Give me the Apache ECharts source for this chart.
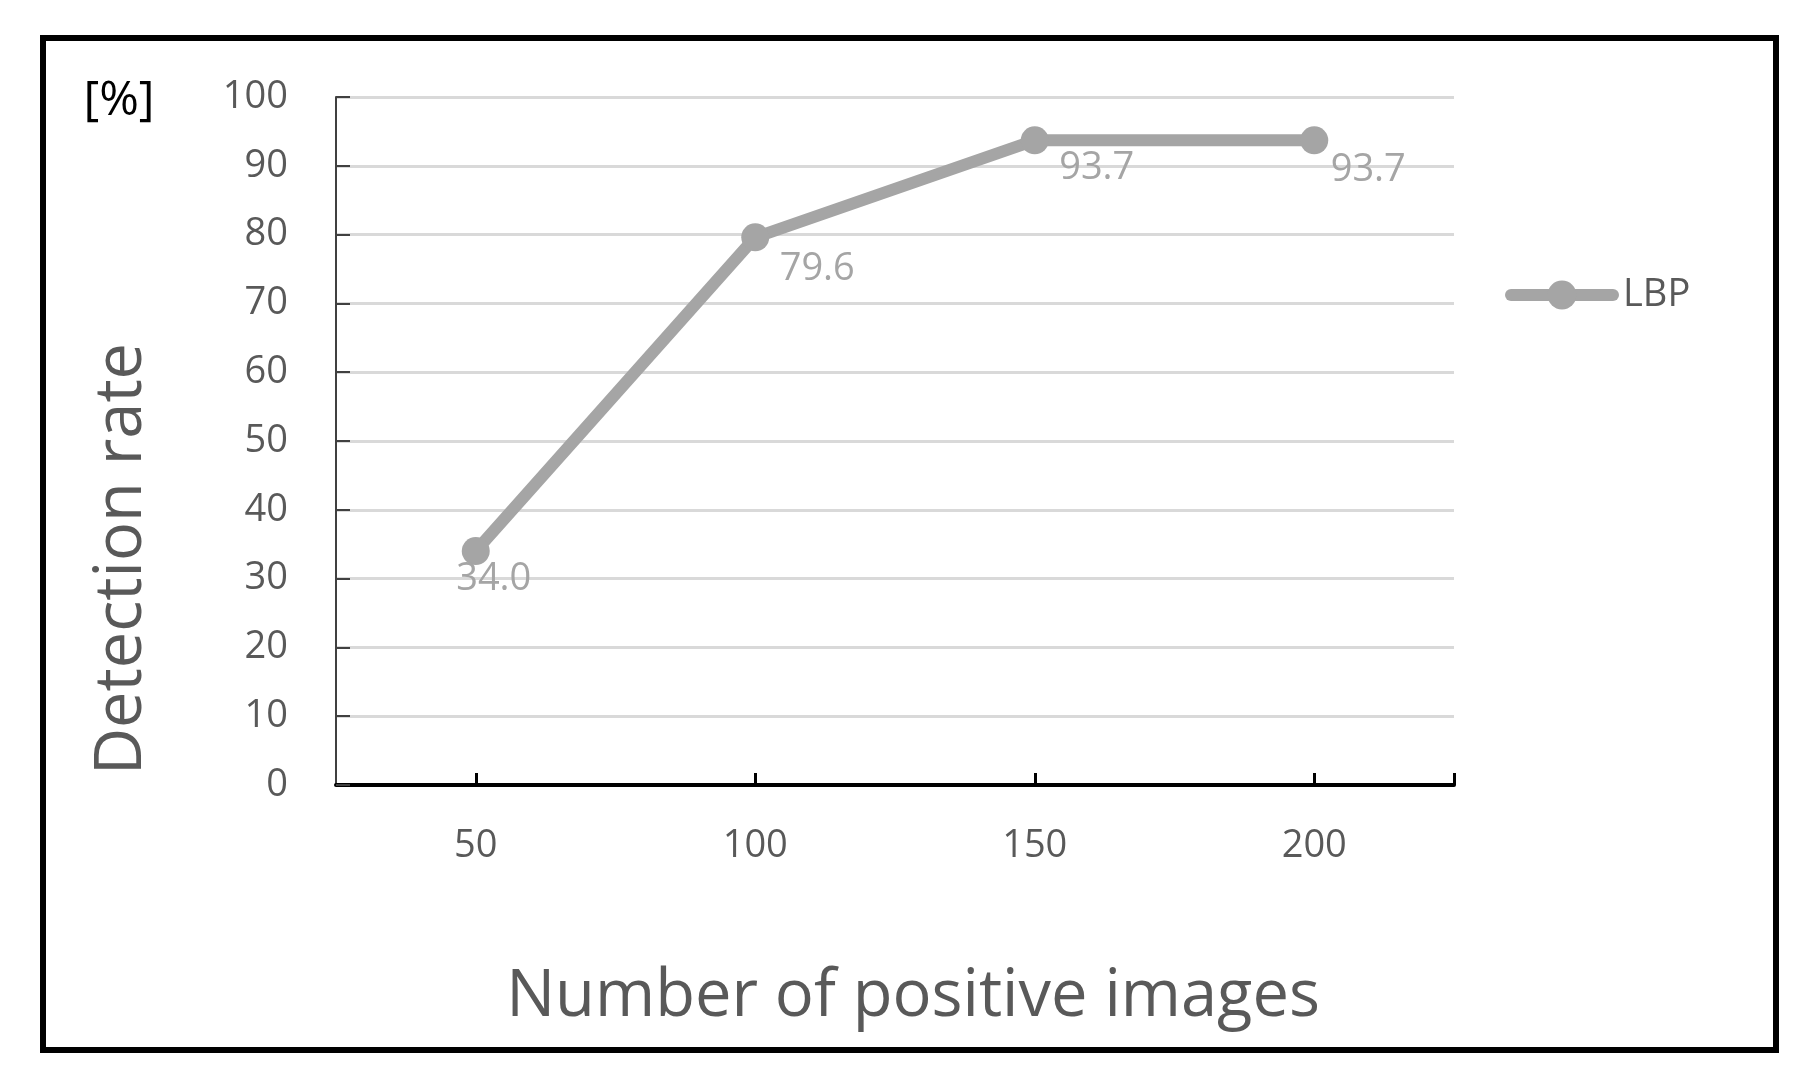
<!DOCTYPE html>
<html>
<head>
<meta charset="utf-8">
<script src="https://cdn.jsdelivr.net/npm/echarts@6/dist/echarts.min.js"></script>
<style>
html,body{margin:0;padding:0;background:#fff;}
#chart{width:1811px;height:1087px;}
</style>
</head>
<body>
<div id="chart"></div>
<script>
// ---- data ----
var categories = [50, 100, 150, 200];
var lbpValues = [34.0, 79.6, 93.7, 93.7];
var yTicks = [0, 10, 20, 30, 40, 50, 60, 70, 80, 90, 100];
var seriesName = 'LBP';
var xTitle = 'Number of positive images';
var yTitle = 'Detection rate';
var unitLabel = '[%]';

// ---- style (kept separate from data) ----
var labelOffsets = [[18, 28], [62, 32], [62, 28], [54, 30]];
var FONT = '"Open Sans", "Noto Sans", sans-serif';
var GRAY = '#A5A5A5';
var TXT = '#595959';

var chart = echarts.init(document.getElementById('chart'), null, {renderer: 'canvas'});

var seriesData = categories.map(function (c, i) {
  return {
    value: [c, lbpValues[i]],
    label: {offset: labelOffsets[i]}
  };
});

var option = {
  animation: false,
  backgroundColor: '#ffffff',
  grid: {left: 336, right: 357, top: 97, bottom: 302, containLabel: false},
  xAxis: {
    type: 'value',
    min: 25,
    max: 225,
    axisLine: {show: true, lineStyle: {color: '#000000', width: 4}},
    axisTick: {show: true, inside: true, length: 12, lineStyle: {color: '#000000', width: 3},
               customValues: categories.concat([225])},
    axisLabel: {show: true, customValues: categories, margin: 42, fontSize: 38,
                color: TXT, fontFamily: FONT},
    splitLine: {show: false}
  },
  yAxis: {
    type: 'value',
    min: 0,
    max: 100,
    interval: 10,
    axisLine: {show: true, lineStyle: {color: '#404040', width: 2}},
    axisTick: {show: true, inside: true, length: 14, lineStyle: {color: '#404040', width: 2}},
    axisLabel: {margin: 48, fontSize: 38, color: TXT, fontFamily: FONT,
                formatter: function (v) { return yTicks.indexOf(v) >= 0 ? String(v) : ''; }},
    splitLine: {show: true, lineStyle: {color: '#D9D9D9', width: 3}}
  },
  legend: {
    show: true,
    left: 1500,
    top: 271,
    itemWidth: 102,
    itemHeight: 36,
    itemGap: 10,
    lineStyle: {width: 12, color: GRAY, cap: 'round'},
    itemStyle: {color: GRAY},
    textStyle: {fontSize: 38, color: TXT, fontFamily: FONT, padding: [0, 0, 0, 5]},
    data: [seriesName]
  },
  series: [{
    name: seriesName,
    type: 'line',
    data: seriesData,
    symbol: 'circle',
    symbolSize: 28,
    lineStyle: {color: GRAY, width: 12, cap: 'round'},
    itemStyle: {color: GRAY},
    label: {
      show: true,
      position: 'inside',
      color: GRAY,
      fontSize: 38,
      fontFamily: FONT,
      formatter: function (p) { return p.value[1].toFixed(1); }
    },
    z: 3
  }],
  graphic: [
    {type: 'rect', shape: {x: 43, y: 38, width: 1733, height: 1012},
     style: {fill: 'none', stroke: '#000000', lineWidth: 6}, z: 10, silent: true},
    {type: 'text', x: 122, y: 559, rotation: Math.PI / 2,
     style: {text: yTitle, fontSize: 65, fill: TXT, fontFamily: FONT,
             textAlign: 'center', textVerticalAlign: 'middle'}},
    {type: 'text', x: 913, y: 997,
     style: {text: xTitle, fontSize: 65, fill: TXT, fontFamily: FONT,
             textAlign: 'center', textVerticalAlign: 'middle'}},
    {type: 'text', x: 119, y: 101,
     style: {text: unitLabel, fontSize: 48, fill: '#000000', fontFamily: FONT,
             textAlign: 'center', textVerticalAlign: 'middle'}}
  ]
};
chart.setOption(option);
</script>
</body>
</html>
